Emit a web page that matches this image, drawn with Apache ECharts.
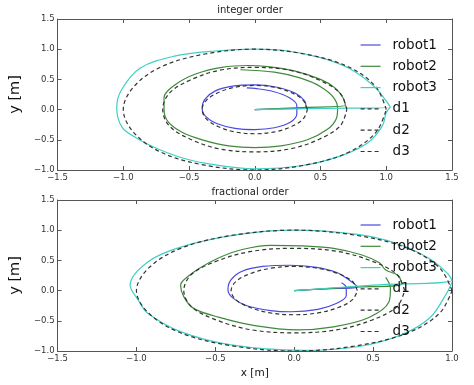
<!DOCTYPE html>
<html><head><meta charset="utf-8">
<script src="https://cdn.jsdelivr.net/npm/echarts@6/dist/echarts.min.js"></script>
<style>html,body{margin:0;padding:0;background:#fff}#c{width:474px;height:385px}</style>
</head><body><div id="c"></div>
<script>
// ---- data ----
var titles = ['integer order', 'fractional order'];
var names = ['robot1', 'robot2', 'robot3', 'd1', 'd2', 'd3'];
var xTicksTop = [-1.5, 1.5];
var xTicksBottom = [-1.5, 1.0];
var yRange = [-1.0, 1.5];

// desired circles (same in both panels)
var d1 = [[0.4,0],[0.37,0.15],[0.28,0.28],[0.15,0.37],[0,0.4],[-0.15,0.37],[-0.28,0.28],[-0.37,0.15],[-0.4,0],[-0.37,-0.15],[-0.28,-0.28],[-0.15,-0.37],[0,-0.4],[0.15,-0.37],[0.28,-0.28],[0.37,-0.15],[0.4,0]];
var d2 = [[0.7,0],[0.65,0.27],[0.49,0.49],[0.27,0.65],[0,0.7],[-0.27,0.65],[-0.49,0.49],[-0.65,0.27],[-0.7,0],[-0.65,-0.27],[-0.49,-0.49],[-0.27,-0.65],[0,-0.7],[0.27,-0.65],[0.49,-0.49],[0.65,-0.27],[0.7,0]];
var d3 = [[1,0],[0.92,0.38],[0.71,0.71],[0.38,0.92],[0,1],[-0.38,0.92],[-0.71,0.71],[-0.92,0.38],[-1,0],[-0.92,-0.38],[-0.71,-0.71],[-0.38,-0.92],[0,-1],[0.38,-0.92],[0.71,-0.71],[0.92,-0.38],[1,0]];

// integer order trajectories
var r1Int = [[0,0],[0.2,0.015],[0.39,0.03],[0.38,0.14],[0.31,0.27],[0.17,0.37],[0,0.41],[-0.17,0.39],[-0.3,0.31],[-0.38,0.17],[-0.4,0.02],[-0.37,-0.12],[-0.29,-0.23],[-0.15,-0.31],[0,-0.33],[0.15,-0.3],[0.27,-0.21],[0.32,-0.07],[0.32,0.07],[0.26,0.2],[0.14,0.3],[0,0.35],[-0.06,0.36]];
var r2Int = [[0,0],[0.35,0.035],[0.69,0.07],[0.67,0.2],[0.61,0.36],[0.5,0.5],[0.3,0.64],[0.1,0.71],[-0.05,0.73],[-0.25,0.7],[-0.45,0.59],[-0.6,0.42],[-0.69,0.2],[-0.69,0],[-0.66,-0.2],[-0.55,-0.38],[-0.4,-0.5],[-0.2,-0.6],[0,-0.63],[0.2,-0.6],[0.4,-0.5],[0.55,-0.33],[0.62,-0.15],[0.63,0.02],[0.6,0.2],[0.5,0.38],[0.35,0.52],[0.15,0.62],[-0.11,0.66]];
var r3Int = [[0,0],[0.5,0.02],[1.03,0.04],[0.98,0.2],[0.9,0.4],[0.72,0.68],[0.5,0.86],[0.25,0.97],[0,1.0],[-0.3,0.97],[-0.62,0.88],[-0.87,0.69],[-1.01,0.34],[-1.05,0.04],[-1.01,-0.29],[-0.9,-0.47],[-0.77,-0.62],[-0.58,-0.78],[-0.37,-0.89],[0,-0.98],[0.35,-0.93],[0.65,-0.77],[0.86,-0.55],[0.97,-0.27],[1.0,-0.05],[1.03,0.04]];

// fractional order trajectories
var r1Frac = [[0,0],[0.2,0.03],[0.4,0.06],[0.35,0.17],[0.27,0.3],[0.13,0.39],[-0.03,0.42],[-0.2,0.4],[-0.33,0.32],[-0.4,0.18],[-0.42,0.02],[-0.39,-0.12],[-0.3,-0.25],[-0.15,-0.33],[-0.02,-0.35],[0.15,-0.31],[0.27,-0.21],[0.33,-0.08],[0.33,0.05],[0.3,0.13]];
var r2Frac = [[0,0],[0.34,0.055],[0.68,0.11],[0.66,0.25],[0.58,0.34],[0.54,0.46],[0.43,0.59],[0.25,0.7],[0.05,0.74],[-0.15,0.75],[-0.33,0.68],[-0.48,0.54],[-0.6,0.37],[-0.68,0.22],[-0.72,0.09],[-0.7,-0.1],[-0.64,-0.29],[-0.48,-0.44],[-0.25,-0.58],[0.02,-0.65],[0.25,-0.6],[0.47,-0.45],[0.6,-0.19],[0.61,0.04],[0.58,0.22]];
var r3Frac = [[0,0],[0.5,0.09],[1.0,0.17],[0.97,0.29],[0.85,0.54],[0.65,0.78],[0.4,0.93],[0,1.0],[-0.35,0.93],[-0.72,0.72],[-0.93,0.47],[-1.04,0.09],[-0.99,-0.15],[-0.93,-0.37],[-0.72,-0.68],[-0.4,-0.9],[0.05,-0.99],[0.4,-0.93],[0.68,-0.73],[0.86,-0.45],[0.96,-0.07],[1.0,0.14]];

// ---- chart ----
var colors = ['#4a4ae0', '#3f8a3a', '#3fd0c4', '#333333', '#333333', '#333333'];
var font = 'DejaVu Sans';
function fmt(v) { return (v < 0 ? '\u2212' : '') + Math.abs(v).toFixed(1); }
function xA(gi, min, max, pos, label) {
  return { type: 'value', gridIndex: gi, min: min, max: max, interval: 0.5, position: pos,
    axisLine: { show: true, onZero: false, lineStyle: { color: '#555', width: 1 } },
    axisTick: { show: true, inside: true, length: 4, lineStyle: { color: '#555' } },
    axisLabel: { show: label, formatter: fmt, color: '#333', fontSize: 8.5, fontFamily: font, margin: 3 },
    splitLine: { show: false } };
}
function yA(gi, pos, label) {
  return { type: 'value', gridIndex: gi, min: yRange[0], max: yRange[1], interval: 0.5, position: pos,
    axisLine: { show: true, onZero: false, lineStyle: { color: '#555', width: 1 } },
    axisTick: { show: true, inside: true, length: 4, lineStyle: { color: '#555' } },
    axisLabel: { show: label, formatter: fmt, color: '#333', fontSize: 8.5, fontFamily: font, margin: 3 },
    splitLine: { show: false },
    name: label ? 'y [m]' : '', nameLocation: 'middle', nameGap: 27,
    nameTextStyle: { fontSize: 14.5, fontFamily: font, color: '#111' } };
}
var xAxes = [
  xA(0, xTicksTop[0], xTicksTop[1], 'bottom', true),
  xA(0, xTicksTop[0], xTicksTop[1], 'top', false),
  xA(1, xTicksBottom[0], xTicksBottom[1], 'bottom', true),
  xA(1, xTicksBottom[0], xTicksBottom[1], 'top', false)
];
xAxes[2].name = 'x [m]'; xAxes[2].nameLocation = 'middle'; xAxes[2].nameGap = 17;
xAxes[2].nameTextStyle = { fontSize: 10.5, fontFamily: font, color: '#111' };
var yAxes = [yA(0, 'left', true), yA(0, 'right', false), yA(1, 'left', true), yA(1, 'right', false)];

var sets = [[r1Int, r2Int, r3Int, d1, d2, d3], [r1Frac, r2Frac, r3Frac, d1, d2, d3]];
var series = [];
sets.forEach(function (arr, gi) {
  arr.forEach(function (d, i) {
    series.push({ type: 'line', name: names[i], xAxisIndex: gi * 2, yAxisIndex: gi * 2, data: d,
      smooth: 0.35, symbol: 'none', showSymbol: false, animation: false, clip: true,
      lineStyle: { color: colors[i], width: 1.2, type: i >= 3 ? [4, 3] : 'solid' },
      itemStyle: { color: colors[i] } });
  });
});
function legend(top) {
  return { orient: 'vertical', left: 355, top: top, itemWidth: 20, itemHeight: 12, itemGap: 7.3,
    data: names, selectedMode: false,
    itemStyle: { opacity: 0 },
    lineStyle: { width: 1.2 },
    textStyle: { fontSize: 13.5, fontFamily: font, color: '#111', padding: [0, 0, 0, 7] } };
}
var chart = echarts.init(document.getElementById('c'), null, { renderer: 'canvas' });
chart.setOption({
  backgroundColor: '#fff',
  animation: false,
  title: [
    { text: titles[0], top: 5, textStyle: { fontSize: 10, fontWeight: 'normal', fontFamily: font, color: '#222' }, padding: 0, textAlign: 'center', left: 250 },
    { text: titles[1], top: 187, textStyle: { fontSize: 10, fontWeight: 'normal', fontFamily: font, color: '#222' }, padding: 0, textAlign: 'center', left: 250 }
  ],
  grid: [
    { left: 48, top: 19, width: 404, height: 151, show: false },
    { left: 48, top: 200, width: 404, height: 151, show: false }
  ],
  xAxis: xAxes,
  yAxis: yAxes,
  legend: [legend(33), legend(213)],
  series: series
});
</script></body></html>
